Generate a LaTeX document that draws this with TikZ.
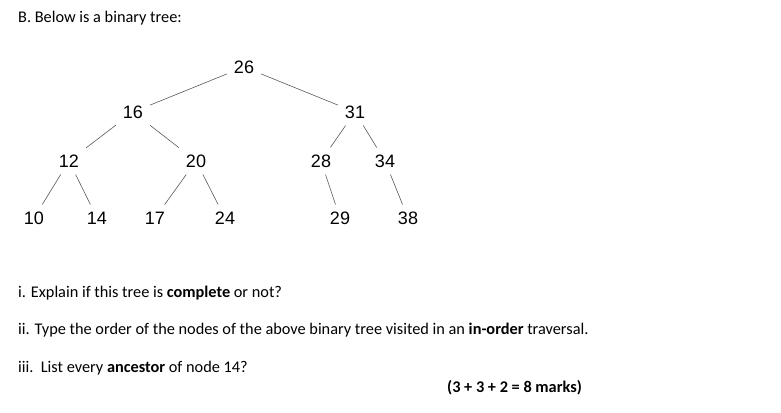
\documentclass[tikz,border=0pt]{standalone}
\usepackage{fontspec}
\setmainfont{Carlito}
\newfontfamily\numfont{Liberation Sans}
\begin{document}
\begin{tikzpicture}[x=1pt,y=-1pt,
  tn/.style={font=\numfont\fontsize{18}{21}\selectfont,inner sep=7pt},
  ed/.style={draw=black!65,line width=0.6pt},
  tx/.style={font=\fontsize{16.3}{19}\selectfont,anchor=west,inner sep=0pt}]
\useasboundingbox[fill=white] (0,0) rectangle (781,412);
\node[tx] (h) at (18,18) {B. Below is a binary tree:};
\node[tn] (n26) at (244,67) {26};
\node[tn] (n16) at (133,112) {16};
\node[tn] (n31) at (355,112) {31};
\node[tn] (n12) at (69,161) {12};
\node[tn] (n20) at (196,161) {20};
\node[tn] (n28) at (321,161) {28};
\node[tn] (n34) at (385,161) {34};
\node[tn] (n10) at (34,218) {10};
\node[tn] (n14) at (97,218) {14};
\node[tn] (n17) at (155,218) {17};
\node[tn] (n24) at (225,218) {24};
\node[tn] (n29) at (340,218) {29};
\node[tn] (n38) at (408,218) {38};
\foreach \a/\b in {26/16,26/31,16/12,16/20,12/10,12/14,20/17,20/24,31/28,31/34,28/29,34/38}
  \draw[ed] (n\a) -- (n\b);
\node[tx] (q1) at (18,293) {i. Explain if this tree is \textbf{complete} or not?};
\node[tx] (q2) at (18,330) {ii. Type the order of the nodes of the above binary tree visited in an \textbf{in-order} traversal.};
\node[tx] (q3) at (18,368) {iii.\ \ List every \textbf{ancestor} of node 14?};
\node[tx] (m) at (447,388) {\textbf{(3 + 3 + 2 = 8 marks)}};
\end{tikzpicture}
\end{document}
